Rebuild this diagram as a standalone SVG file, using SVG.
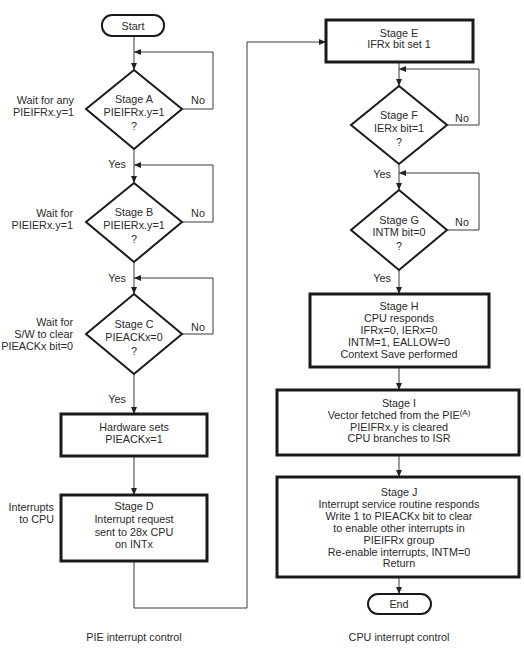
<svg xmlns="http://www.w3.org/2000/svg" width="524" height="657" viewBox="0 0 524 657">
<style>
text{font-family:"Liberation Sans",Arial,sans-serif;font-size:10.8px;fill:#2a2a2a;text-anchor:middle}
.r{text-anchor:end}
.box{fill:#fff;stroke:#1a1a1a;stroke-width:3}
.dia{fill:#fff;stroke:#1a1a1a;stroke-width:2}
.term{fill:#fff;stroke:#1a1a1a;stroke-width:2}
.ln{fill:none;stroke:#3a3a3a;stroke-width:1}
</style>
<defs>
<marker id="ah" markerUnits="userSpaceOnUse" markerWidth="7" markerHeight="6" refX="7" refY="3" orient="auto">
<path d="M0,0 L7,3 L0,6 Z" fill="#222"/>
</marker>
</defs>
<rect width="524" height="657" fill="#fff"/>
<g id="connectors">
<path class="ln" d="M134,36 V70" marker-end="url(#ah)"/>
<path class="ln" d="M182,109 H213 V52 H134" marker-end="url(#ah)"/>
<path class="ln" d="M134,149 V183" marker-end="url(#ah)"/>
<path class="ln" d="M182,222 H213 V165 H134" marker-end="url(#ah)"/>
<path class="ln" d="M134,262 V294" marker-end="url(#ah)"/>
<path class="ln" d="M182,334 H213 V278 H134" marker-end="url(#ah)"/>
<path class="ln" d="M134,374 V414" marker-end="url(#ah)"/>
<path class="ln" d="M134,456 V495" marker-end="url(#ah)"/>
<path class="ln" d="M134,561 V608 H247 V42 H326" marker-end="url(#ah)"/>
<path class="ln" d="M399,62 V86" marker-end="url(#ah)"/>
<path class="ln" d="M447,125 H479 V69 H399" marker-end="url(#ah)"/>
<path class="ln" d="M399,164 V190" marker-end="url(#ah)"/>
<path class="ln" d="M447,230 H479 V173 H399" marker-end="url(#ah)"/>
<path class="ln" d="M399,270 V294" marker-end="url(#ah)"/>
<path class="ln" d="M399,367 V390" marker-end="url(#ah)"/>
<path class="ln" d="M399,455 V477" marker-end="url(#ah)"/>
<path class="ln" d="M399,577 V594" marker-end="url(#ah)"/>
<text x="198" y="104">No</text>
<text x="117" y="168">Yes</text>
<text x="198" y="217">No</text>
<text x="117" y="282">Yes</text>
<text x="198" y="331">No</text>
<text x="117" y="403">Yes</text>
<text x="462" y="122">No</text>
<text x="382" y="178">Yes</text>
<text x="462" y="226">No</text>
<text x="382" y="282">Yes</text>
</g>
<g id="start">
<rect class="term" x="102" y="15" width="62" height="21" rx="10"/>
<text x="133" y="29.5">Start</text>
</g>
<g id="stageA">
<polygon class="dia" points="134,70 182,109 134,149 86,109"/>
<text x="134" y="103">Stage A</text>
<text x="134" y="116">PIEIFRx.y=1</text>
<text x="134" y="130">?</text>
<text class="r" x="74" y="104">Wait for any</text>
<text class="r" x="74" y="116">PIEIFRx.y=1</text>
</g>
<g id="stageB">
<polygon class="dia" points="134,183 182,222 134,262 86,222"/>
<text x="134" y="216">Stage B</text>
<text x="134" y="229">PIEIERx.y=1</text>
<text x="134" y="243">?</text>
<text class="r" x="73" y="217">Wait for</text>
<text class="r" x="73" y="229">PIEIERx.y=1</text>
</g>
<g id="stageC">
<polygon class="dia" points="134,294 182,334 134,374 86,334"/>
<text x="134" y="328">Stage C</text>
<text x="134" y="341">PIEACKx=0</text>
<text x="134" y="355">?</text>
<text class="r" x="73" y="326">Wait for</text>
<text class="r" x="73" y="338">S/W to clear</text>
<text class="r" x="73" y="350">PIEACKx bit=0</text>
</g>
<g id="hwsets">
<rect class="box" x="61" y="414" width="146" height="42"/>
<text x="134" y="431">Hardware sets</text>
<text x="134" y="443">PIEACKx=1</text>
</g>
<g id="stageD">
<rect class="box" x="61" y="495" width="146" height="66"/>
<text x="134" y="510">Stage D</text>
<text x="134" y="523">Interrupt request</text>
<text x="134" y="536">sent to 28x CPU</text>
<text x="134" y="548">on INTx</text>
<text class="r" x="54" y="511">Interrupts</text>
<text class="r" x="54" y="523">to CPU</text>
</g>
<g id="stageE">
<rect class="box" x="326" y="20" width="147" height="42"/>
<text x="399" y="37">Stage E</text>
<text x="399" y="48">IFRx bit set 1</text>
</g>
<g id="stageF">
<polygon class="dia" points="399,86 447,125 399,164 351,125"/>
<text x="399" y="119">Stage F</text>
<text x="399" y="132">IERx bit=1</text>
<text x="399" y="146">?</text>
</g>
<g id="stageG">
<polygon class="dia" points="399,190 447,230 399,270 351,230"/>
<text x="399" y="224">Stage G</text>
<text x="399" y="236">INTM bit=0</text>
<text x="399" y="250">?</text>
</g>
<g id="stageH">
<rect class="box" x="310" y="294" width="179" height="73"/>
<text x="399" y="310">Stage H</text>
<text x="399" y="322">CPU responds</text>
<text x="399" y="334">IFRx=0, IERx=0</text>
<text x="399" y="346">INTM=1, EALLOW=0</text>
<text x="399" y="358">Context Save performed</text>
</g>
<g id="stageI">
<rect class="box" x="277" y="390" width="242" height="65"/>
<text x="399" y="407">Stage I</text>
<text x="399" y="419">Vector fetched from the PIE<tspan font-size="8" dy="-4">(A)</tspan></text>
<text x="399" y="431">PIEIFRx.y is cleared</text>
<text x="399" y="442">CPU branches to ISR</text>
</g>
<g id="stageJ">
<rect class="box" x="277" y="477" width="242" height="100"/>
<text x="399" y="496">Stage J</text>
<text x="399" y="508">Interrupt service routine responds</text>
<text x="399" y="520">Write 1 to PIEACKx bit to clear</text>
<text x="399" y="532">to enable other interrupts in</text>
<text x="399" y="543.5">PIEIFRx group</text>
<text x="399" y="555.5">Re-enable interrupts, INTM=0</text>
<text x="399" y="567">Return</text>
</g>
<g id="end">
<rect class="term" x="368" y="594" width="63" height="20" rx="10"/>
<text x="399" y="608">End</text>
</g>
<g id="captions">
<text x="134" y="641">PIE interrupt control</text>
<text x="399" y="641">CPU interrupt control</text>
</g>
</svg>
